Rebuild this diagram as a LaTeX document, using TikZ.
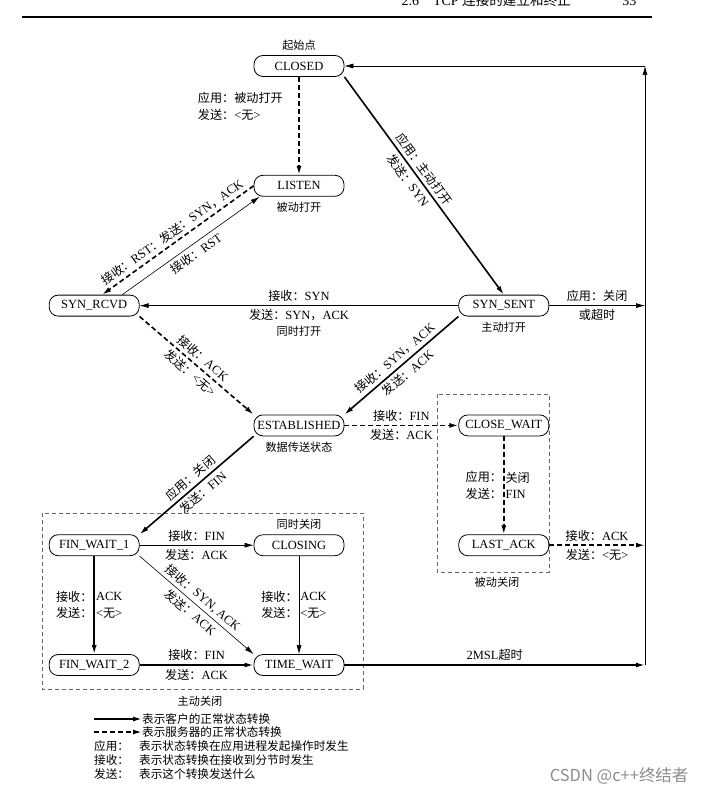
\documentclass[tikz,border=0pt]{standalone}
\usepackage{fontspec}
\setmainfont{Liberation Serif}
\newfontfamily\cjk[Scale=0.97]{Noto Sans CJK SC}
% switch to the CJK font for Chinese characters automatically
\newXeTeXintercharclass\cjkclass
\newcount\cjkcode
\cjkcode="3000
\loop \XeTeXcharclass\cjkcode=\cjkclass \advance\cjkcode by 1 \ifnum\cjkcode<"3040 \repeat
\cjkcode="4E00
\loop \XeTeXcharclass\cjkcode=\cjkclass \advance\cjkcode by 1 \ifnum\cjkcode<"A000 \repeat
\cjkcode="FF00
\loop \XeTeXcharclass\cjkcode=\cjkclass \advance\cjkcode by 1 \ifnum\cjkcode<"FFF0 \repeat
\XeTeXinterchartoks 0 \cjkclass = {\cjk}
\XeTeXinterchartoks 4095 \cjkclass = {\cjk}
\XeTeXinterchartoks \cjkclass 0 = {\rmfamily}
\XeTeXinterchartoks \cjkclass 4095 = {\rmfamily}
\AtBeginDocument{\XeTeXinterchartokenstate=1}
\usetikzlibrary{arrows.meta,positioning}
\tikzset{
  state/.style={rectangle,rounded corners=9pt,draw,line width=0.8pt,minimum width=90pt,minimum height=21pt,inner sep=1pt},
  cli/.style={->,line width=1.6pt},
  srv/.style={->,line width=1.6pt,dash pattern=on 5pt off 3pt},
  norm/.style={->,line width=0.6pt},
  note/.style={font=\cjk\fontsize{11.5}{13}\selectfont},
  group/.style={draw=black!60,line width=0.6pt,dash pattern=on 4pt off 3pt},
  legend/.style={anchor=west,inner sep=0pt,font=\fontsize{12}{13}\selectfont},
}

\begin{document}
\begin{tikzpicture}[x=1pt,y=-1pt,node distance=98pt and 114pt,>={Latex[length=9pt,width=5pt]},font=\fontsize{12.5}{16.5}\selectfont]
  \useasboundingbox (0,0) rectangle (706,797);
  \clip (0,0) rectangle (706,797);
  % page header
  \node[anchor=base west,font=\fontsize{14}{16}\selectfont] (hdr) at (398,6) {2.6\quad TCP\ 连接的建立和终止};
  \node[anchor=base east,font=\fontsize{14}{16}\selectfont] (pageno) at (640,6) {33};
  \draw[line width=1.2pt] (22,17) -- (652,17);

  % states
  \node[state] (closed) at (299,66) {CLOSED};
  \node[state,below=of closed] (listen) {LISTEN};
  \node[state,below left=of listen] (synrcvd) {SYN\_RCVD};
  \node[state,below right=of listen] (synsent) {SYN\_SENT};
  \node[state,below right=of synrcvd] (estab) {ESTABLISHED};
  \node[state,right=of estab] (closewait) {CLOSE\_WAIT};
  \node[state,below=of closewait] (lastack) {LAST\_ACK};
  \node[state,below left=of estab] (finwait1) {FIN\_WAIT\_1};
  \node[state,right=of finwait1] (closing) {CLOSING};
  \node[state,below=of finwait1] (finwait2) {FIN\_WAIT\_2};
  \node[state,right=of finwait2] (timewait) {TIME\_WAIT};

  \node[note,above=1pt of closed] (startnote) {起始点};
  \node[note,below=2pt of listen] (listennote) {被动打开};
  \node[note,below=2pt of synsent] (sentnote) {主动打开};
  \node[note,below=2pt of estab] (estabnote) {数据传送状态};
  \node[note,above=1pt of closing] (closingnote) {同时关闭};

  % groups
  \draw[group] (42,513) rectangle (363,689);
  \node[note] (activenote) at (200,701) {主动关闭};
  \draw[group] (437,394) rectangle (549,572);
  \node[note] (passivenote) at (497,582) {被动关闭};

  % opening
  \draw[srv] (closed) -- node[left=12pt,pos=0.3,align=left] {应用：被动打开\\发送：<无>} (listen);
  \draw[cli] (closed.south east) -- node[above,sloped,pos=0.45] {应用：主动打开} node[below,sloped,pos=0.45] {发送：SYN} (synsent.north);
  \draw[srv] (listen.west) -- node[above,sloped] {接收：RST：发送：SYN，ACK} ([xshift=8pt]synrcvd.north);
  \draw[norm] ([xshift=28pt]synrcvd.north) -- node[below,sloped] {接收：RST} ([xshift=6pt]listen.south west);
  \draw[norm] (synsent) -- node[above] {接收：SYN} node[below] (synack) {发送：SYN，ACK} (synrcvd);
  \node[note,below=-2pt of synack] (simopen) {同时打开};
  \draw[srv] (synrcvd.south east) -- node[above,sloped] {接收：ACK} node[below,sloped] {发送：<无>} (estab.north west);
  \draw[cli] (synsent.south west) -- node[above,sloped] {接收：SYN，ACK} node[below,sloped] {发送：ACK} (estab.north east);

  % passive close
  \draw[srv] (estab) -- node[above] {接收：FIN} node[below] {发送：ACK} (closewait);
  \draw[srv] (closewait) -- node[left,align=right,inner sep=1pt] {应用：\\发送：} node[right,align=left,inner sep=1pt] {关闭\\FIN} (lastack);

  % active close
  \draw[cli] (estab.south west) -- node[above,sloped] {应用：关闭} node[below,sloped] {发送：FIN} (finwait1.north east);
  \draw[norm] (finwait1) -- node[above] {接收：FIN} node[below] {发送：ACK} (closing);
  \draw[cli] (finwait1) -- node[left,align=right,inner sep=1pt] {接收：\\发送：} node[right,align=left,inner sep=1pt] {ACK\\<无>} (finwait2);
  \draw[norm] (finwait1.south east) -- node[above,sloped] {接收：SYN, ACK} node[below,sloped] {发送：ACK} (timewait.north west);
  \draw[norm] (closing) -- node[left,align=right,inner sep=1pt] {接收：\\发送：} node[right,align=left,inner sep=1pt] {ACK\\<无>} (timewait);
  \draw[cli] (finwait2) -- node[above] {接收：FIN} node[below] {发送：ACK} (timewait);

  % return to CLOSED
  \coordinate (rline) at (645,0);
  \coordinate (rtop) at (closed -| rline);
  \coordinate (rbot) at (timewait -| rline);
  \draw[norm] (rbot) -- (rtop);
  \draw[norm] (rtop) -- (closed);
  \draw[norm] (synsent) -- node[above] {应用：关闭} node[below] {或超时} (synsent -| rline);
  \draw[srv] (lastack) -- node[above] {接收：ACK} node[below] {发送：<无>} (lastack -| rline);
  \draw[cli] (timewait) -- node[above] {2MSL超时} (rbot);

  % legend
  \coordinate (lgcli) at (94,719);
  \node[legend] (lgclitext) at (142,719) {表示客户的正常状态转换};
  \draw[cli] (lgcli) -- (lgclitext.west);
  \coordinate (lgsrv) at (94,732);
  \node[legend] (lgsrvtext) at (142,732) {表示服务器的正常状态转换};
  \draw[srv] (lgsrv) -- (lgsrvtext.west);
  \node[legend] (keyapp) at (94,746) {应用：};
  \node[legend] (descapp) at (139,746) {表示状态转换在应用进程发起操作时发生};
  \node[legend] (keyrecv) at (94,760) {接收：};
  \node[legend] (descrecv) at (139,760) {表示状态转换在接收到分节时发生};
  \node[legend] (keysend) at (94,774) {发送：};
  \node[legend] (descsend) at (139,774) {表示这个转换发送什么};

  % watermark
  \node[anchor=east,text=black!45,font=\cjk\fontsize{17}{20}\selectfont] (csdn) at (692,776) {CSDN @c++终结者};
\end{tikzpicture}
\end{document}
